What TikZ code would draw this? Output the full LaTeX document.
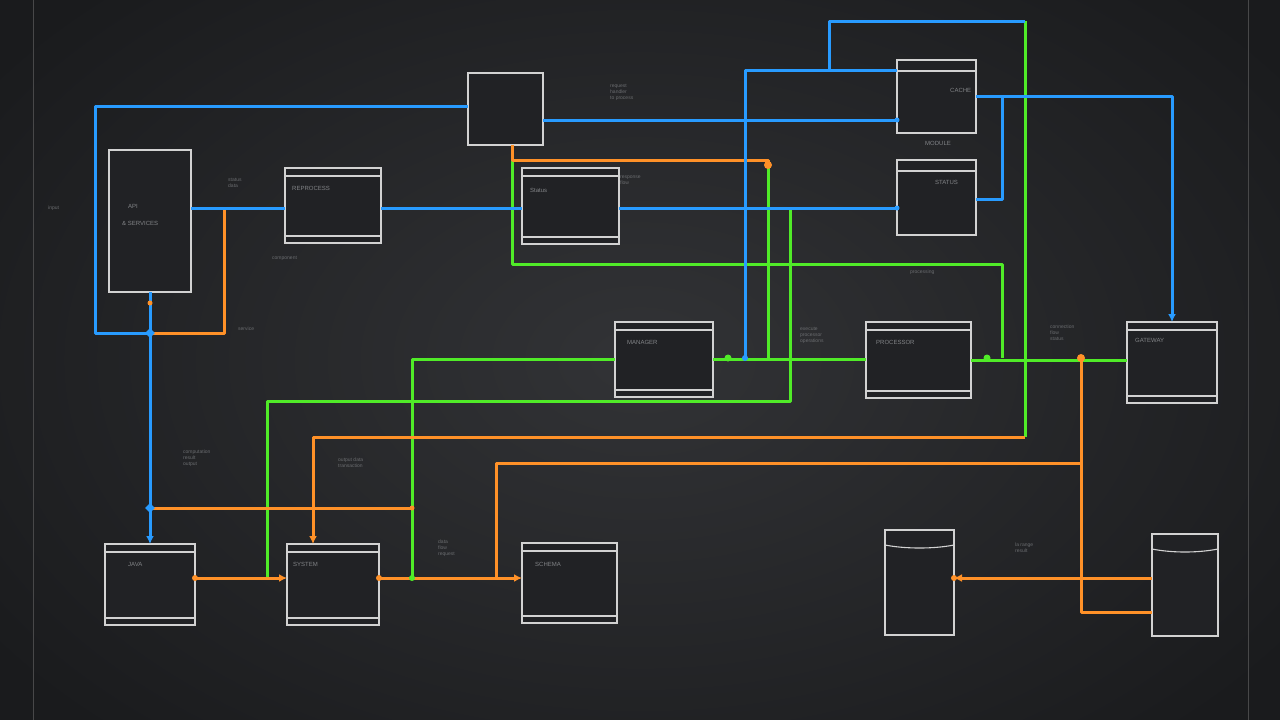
\documentclass[tikz,border=0pt]{standalone}
\usepackage{fontspec}
\setmainfont{Liberation Sans}
\usetikzlibrary{arrows.meta,calc,shapes.geometric}
\definecolor{bgin}{RGB}{50,51,54}
\definecolor{bgout}{RGB}{26,27,29}
\definecolor{boxfill}{RGB}{33,34,37}
\definecolor{boxline}{RGB}{210,210,210}
\definecolor{cblue}{RGB}{40,155,255}
\definecolor{cgreen}{RGB}{80,235,40}
\definecolor{corange}{RGB}{255,145,40}
\definecolor{faint}{RGB}{130,132,135}
\tikzset{
  box/.style={draw=boxline, fill=boxfill, line width=1.3pt, inner sep=0pt, outer sep=0pt},
  hdr/.style={draw=boxline, line width=1.1pt},
  bw/.style={line width=3pt, line join=round, cblue},
  gw/.style={line width=3pt, line join=round, cgreen},
  ow/.style={line width=3pt, line join=round, corange},
  tip/.style={-{Latex[length=8pt,width=8pt]}},
  lbl/.style={font=\fontsize{6}{7}\selectfont, text=faint, anchor=west, inner sep=0pt},
  note/.style={font=\fontsize{5}{6}\selectfont, text=faint!70!bgin, align=left, inner sep=0pt, anchor=west},
  jdot/.style={circle, inner sep=0pt, minimum size=6pt},
  jdia/.style={diamond, inner sep=0pt, minimum size=10pt}
}
\begin{document}
\begin{tikzpicture}[x=1pt,y=-1pt]
\useasboundingbox (0,0) rectangle (1280,720);
\clip (0,0) rectangle (1280,720);
\shade[inner color=bgin, outer color=bgout] (-150,-150) rectangle (1430,870);
\draw[gray!45!bgout, line width=1pt] (33,0) -- (33,720);
\draw[gray!45!bgout, line width=1pt] (1248,0) -- (1248,720);

% ---------- boxes ----------
\node[box, minimum width=82, minimum height=142] (A) at (150,221) {};
\node[box, minimum width=96, minimum height=75] (B) at (333,205.5) {};
\node[box, minimum width=75, minimum height=72] (C) at (505.5,109) {};
\node[box, minimum width=97, minimum height=76] (D) at (570.5,206) {};
\node[box, minimum width=79, minimum height=73] (E) at (936.5,96.5) {};
\node[box, minimum width=79, minimum height=75] (F) at (936.5,197.5) {};
\node[box, minimum width=98, minimum height=75] (G) at (664,359.5) {};
\node[box, minimum width=105, minimum height=76] (H) at (918.5,360) {};
\node[box, minimum width=90, minimum height=81] (I) at (1172,362.5) {};
\node[box, minimum width=90, minimum height=81] (J) at (150,584.5) {};
\node[box, minimum width=92, minimum height=81] (K) at (333,584.5) {};
\node[box, minimum width=95, minimum height=80] (L) at (569.5,583) {};
\node[box, minimum width=69, minimum height=105] (M) at (919.5,582.5) {};
\node[box, minimum width=66, minimum height=102] (N) at (1185,585) {};

% header / footer bars
\foreach \n in {B,D,G,H,I,J,K,L}{
  \draw[hdr] ([yshift=-8pt]\n.north west) -- ([yshift=-8pt]\n.north east);
  \draw[hdr] ([yshift=7pt]\n.south west) -- ([yshift=7pt]\n.south east);
}
\foreach \n in {E,F}{
  \draw[hdr] ([yshift=-11pt]\n.north west) -- ([yshift=-11pt]\n.north east);
}
\draw[hdr] ([yshift=-15pt]M.north west) .. controls ([xshift=20pt,yshift=-19pt]M.north west) and ([xshift=-20pt,yshift=-19pt]M.north east) .. ([yshift=-15pt]M.north east);
\draw[hdr] ([yshift=-15pt]N.north west) .. controls ([xshift=20pt,yshift=-19pt]N.north west) and ([xshift=-20pt,yshift=-19pt]N.north east) .. ([yshift=-15pt]N.north east);

% ---------- box labels (faint) ----------
\node[lbl] at (128,206) {API};
\node[lbl] at (122,223) {\& SERVICES};
\node[lbl] at (292,188) {REPROCESS};
\node[lbl] at (530,190) {Status};
\node[lbl] at (627,342) {MANAGER};
\node[lbl] at (876,342) {PROCESSOR};
\node[lbl] at (1135,340) {GATEWAY};
\node[lbl] at (128,564) {JAVA};
\node[lbl] at (293,564) {SYSTEM};
\node[lbl] at (535,564) {SCHEMA};
\node[lbl] at (935,182) {STATUS};
\node[lbl] at (925,143) {MODULE};
\node[lbl] at (950,90) {CACHE};

% ---------- coordinates ----------
\coordinate (jA) at (150,333);
\coordinate (jL) at (95,333);
\coordinate (jT) at (95,106);
\coordinate (jJ) at (150,508);
\coordinate (yAB) at (224,208);
\coordinate (yCE) at (543,120);
\coordinate (vG) at (745,358);
\coordinate (vT) at (745,70);
\coordinate (tT) at (829,70);
\coordinate (tU) at (829,21);
\coordinate (tR) at (1025,21);
\coordinate (tD) at (1025,437);
\coordinate (kO) at (313,437);
\coordinate (eF) at (1002,97);
\coordinate (eF2) at (1002,199);
\coordinate (gK) at (412,578);
\coordinate (oC) at (512,160);
\coordinate (oR) at (768,160);
\coordinate (gC) at (512,264);
\coordinate (gR) at (1002,264);
\coordinate (gH) at (1002,358);
\coordinate (gV) at (768,358);
\coordinate (dG) at (790,208);
\coordinate (dG2) at (790,401);
\coordinate (dJ) at (267,401);
\coordinate (dJ2) at (267,578);
\coordinate (oH) at (1081,358);
\coordinate (oN) at (1081,612);
\coordinate (oM) at (1081,463);
\coordinate (oL) at (496,463);
\coordinate (oL2) at (496,578);
\coordinate (yB) at (0,578);

% ---------- green wires ----------
\draw[gw] (G.west) -| (gK);
\draw[gw] (G.east) -- (G.east -| H.west);
\draw[gw] (H.east) -- (H.east -| I.west);
\draw[gw] (oC) -- (gC) -- (gR) -- (gH);
\draw[gw] (oR) -- (gV);
\draw[gw] (dG) -- (dG2) -- (dJ) -- (dJ2);
\draw[gw] (tR) -- (tD);

% ---------- orange wires ----------
\draw[ow] (C.south -| oC) -- (oC) -- (oR) -- ++(0,6);
\draw[ow] (yAB) -- (yAB |- jA) -- (jA);
\draw[ow] (jJ) -- (jJ -| gK);
\draw[ow, tip] (tD) -- (kO) -- (K.north -| kO);
\draw[ow] (oH) -- (oN) -- (oN -| N.west);
\draw[ow] (oM) -- (oL) -- (oL2);
\draw[ow, tip] (J.east |- yB) -- (K.west |- yB);
\draw[ow, tip] (K.east |- yB) -- (L.west |- yB);
\draw[ow, tip] (N.west |- yB) -- (M.east |- yB);

% ---------- blue wires ----------
\draw[bw] (jA) -- (jL) |- (C.west |- jT);
\draw[bw, tip] (A.south) -- (J.north);
\draw[bw] (A.east |- yAB) -- (B.west |- yAB);
\draw[bw] (B.east |- yAB) -- (D.west |- yAB);
\draw[bw] (C.east |- yCE) -- (E.west |- yCE);
\draw[bw] (D.east |- yAB) -- (F.west |- yAB);
\draw[bw] (vG) -- (vT) -- (E.west |- vT);
\draw[bw] (tT) -- (tU) -- (tR);
\draw[bw, tip] (E.east) -| (I.north);
\draw[bw] (eF) -- (eF2) -- (F.east |- eF2);

% ---------- junction markers ----------
\node[jdia, fill=cblue] at (jA) {};
\node[jdia, fill=cblue] at (jJ) {};
\node[jdot, fill=cblue] at (vG) {};
\node[jdot, fill=cgreen, minimum size=7pt] at (728,358) {};
\node[jdot, fill=cgreen, minimum size=7pt] at (987,358) {};
\node[jdot, fill=corange, minimum size=8pt] at (oH) {};
\node[jdot, fill=corange, minimum size=8pt] at (768,165) {};
\node[jdot, fill=cgreen] at (gK) {};
\node[jdot, fill=corange] at (J.east |- yB) {};
\node[jdot, fill=corange] at (K.east |- yB) {};
\node[jdot, fill=corange, minimum size=5pt] at (150,303) {};
\node[jdot, fill=corange, minimum size=5pt] at (412,508) {};
\node[jdot, fill=corange] at (M.east |- yB) {};
\node[jdot, fill=cblue, minimum size=5pt] at (E.west |- yCE) {};
\node[jdot, fill=cblue, minimum size=5pt] at (F.west |- yAB) {};

% ---------- faint annotations ----------
\node[note] at (228,183) {status\\ data};
\node[note] at (272,258) {component};
\node[note] at (238,329) {service};
\node[note] at (620,180) {response\\ flow};
\node[note] at (610,92) {request\\ handler\\ to process};
\node[note] at (800,335) {execute\\ processor\\ operations};
\node[note] at (1050,333) {connection\\ flow\\ status};
\node[note] at (183,458) {computation\\ result\\ output};
\node[note] at (338,463) {output data\\ transaction};
\node[note] at (438,548) {data\\ flow\\ request};
\node[note] at (1015,548) {la range\\ result};
\node[note] at (910,272) {processing};
\node[note] at (48,208) {input};
\end{tikzpicture}
\end{document}
